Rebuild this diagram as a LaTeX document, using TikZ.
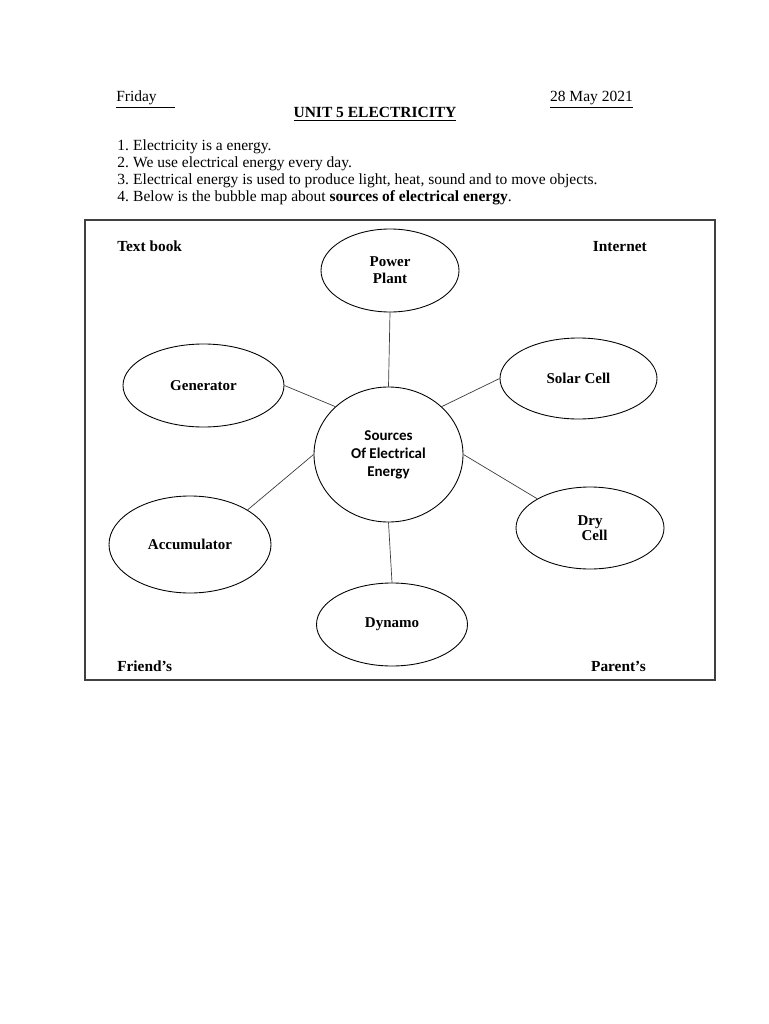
\documentclass[tikz,border=0pt]{standalone}
\usepackage{fontspec}
\setmainfont{Liberation Serif}
\newfontfamily\hubfont{Carlito}
\usepackage{xcolor}
\definecolor{cLine}{HTML}{000000}
\definecolor{cLink}{HTML}{3A3A3A}
\definecolor{cFrame}{HTML}{404040}
\usetikzlibrary{positioning,shapes.geometric}
\tikzset{
  node-text/.style={anchor=base west,inner sep=0pt,font=\fontsize{12.4}{14}\selectfont},
  node-corner/.style={anchor=base west,inner sep=0pt,font=\fontsize{12.3}{14}\selectfont\bfseries},
  node-bubble/.style={draw=cLine,line width=0.7pt,ellipse,inner sep=0pt,
    align=center,font=\fontsize{12}{13.6}\selectfont\bfseries},
  node-hub/.style={node-bubble,font=\hubfont\fontsize{12}{14.4}\selectfont\bfseries},
  link/.style={draw=cLink,line width=0.55pt},
  frame/.style={draw=cFrame,line width=1.1pt},
}
\newcommand{\itemno}[1]{\makebox[12.8pt][l]{#1}}

\begin{document}
\begin{tikzpicture}[x=0.8pt,y=-0.8pt]
  \useasboundingbox[fill=white] (0,0) rectangle (768,1024);
  % heading
  \node[node-text] (day) at (116,102) {\underline{Friday\hspace*{1.2em}}};
  \node[node-text,anchor=base east] (date) at (633,102) {\underline{28 May 2021}};
  \node[node-text,anchor=base,font=\fontsize{12.4}{14}\selectfont\bfseries] (title) at (375,118)
    {\underline{UNIT 5 ELECTRICITY}};
  % notes
  \node[node-text] (n1) at (117,151) {\itemno{1.}Electricity is a energy.};
  \node[node-text] (n2) at (117,168) {\itemno{2.}We use electrical energy every day.};
  \node[node-text] (n3) at (117,185) {\itemno{3.}Electrical energy is used to produce light, heat, sound and to move objects.};
  \node[node-text] (n4) at (117,202) {\itemno{4.}Below is the bubble map about \textbf{sources of electrical energy}.};
  % bubble map
  \draw[frame] (85,220) rectangle (715,680);
  \node[node-corner] (book) at (117,251) {Text book};
  \node[node-corner,anchor=base east] (net) at (647,251) {Internet};
  \node[node-corner] (friend) at (117,671) {Friend's};
  \node[node-corner,anchor=base east] (parent) at (646,671) {Parent's};

  \node[node-hub,minimum width=119.2pt,minimum height=108pt] (hub) at (388.5,454.5)
    {Sources\\Of Electrical\\Energy};
  \node[node-bubble,minimum width=110.4pt,minimum height=66.4pt] (plant) at (390,270.5) {Power\\Plant};
  \node[node-bubble,minimum width=128.8pt,minimum height=66.4pt] (gen) at (203.5,385.5) {Generator};
  \node[node-bubble,minimum width=125.6pt,minimum height=64.8pt] (solar) at (578.5,378.5) {Solar Cell};
  \node[node-bubble,minimum width=129.6pt,minimum height=77.6pt] (acc) at (190,544.5) {Accumulator};
  \node[node-bubble,minimum width=118.4pt,minimum height=65.6pt] (dry) at (590,528) {Dry\\[-1.5pt]\hspace*{0.6em}Cell};
  \node[node-bubble,minimum width=120.8pt,minimum height=66.4pt] (dyn) at (392,624.5) {Dynamo};

  % spokes
  \draw[link] (plant.south) -- (hub.north);
  \draw[link] (gen.east) -- (hub.138);
  \draw[link] (solar.west) -- (hub.42);
  \draw[link] (acc.31) -- (hub.west);
  \draw[link] (dry.151) -- (hub.east);
  \draw[link] (dyn.north) -- (hub.south);
\end{tikzpicture}
\end{document}
